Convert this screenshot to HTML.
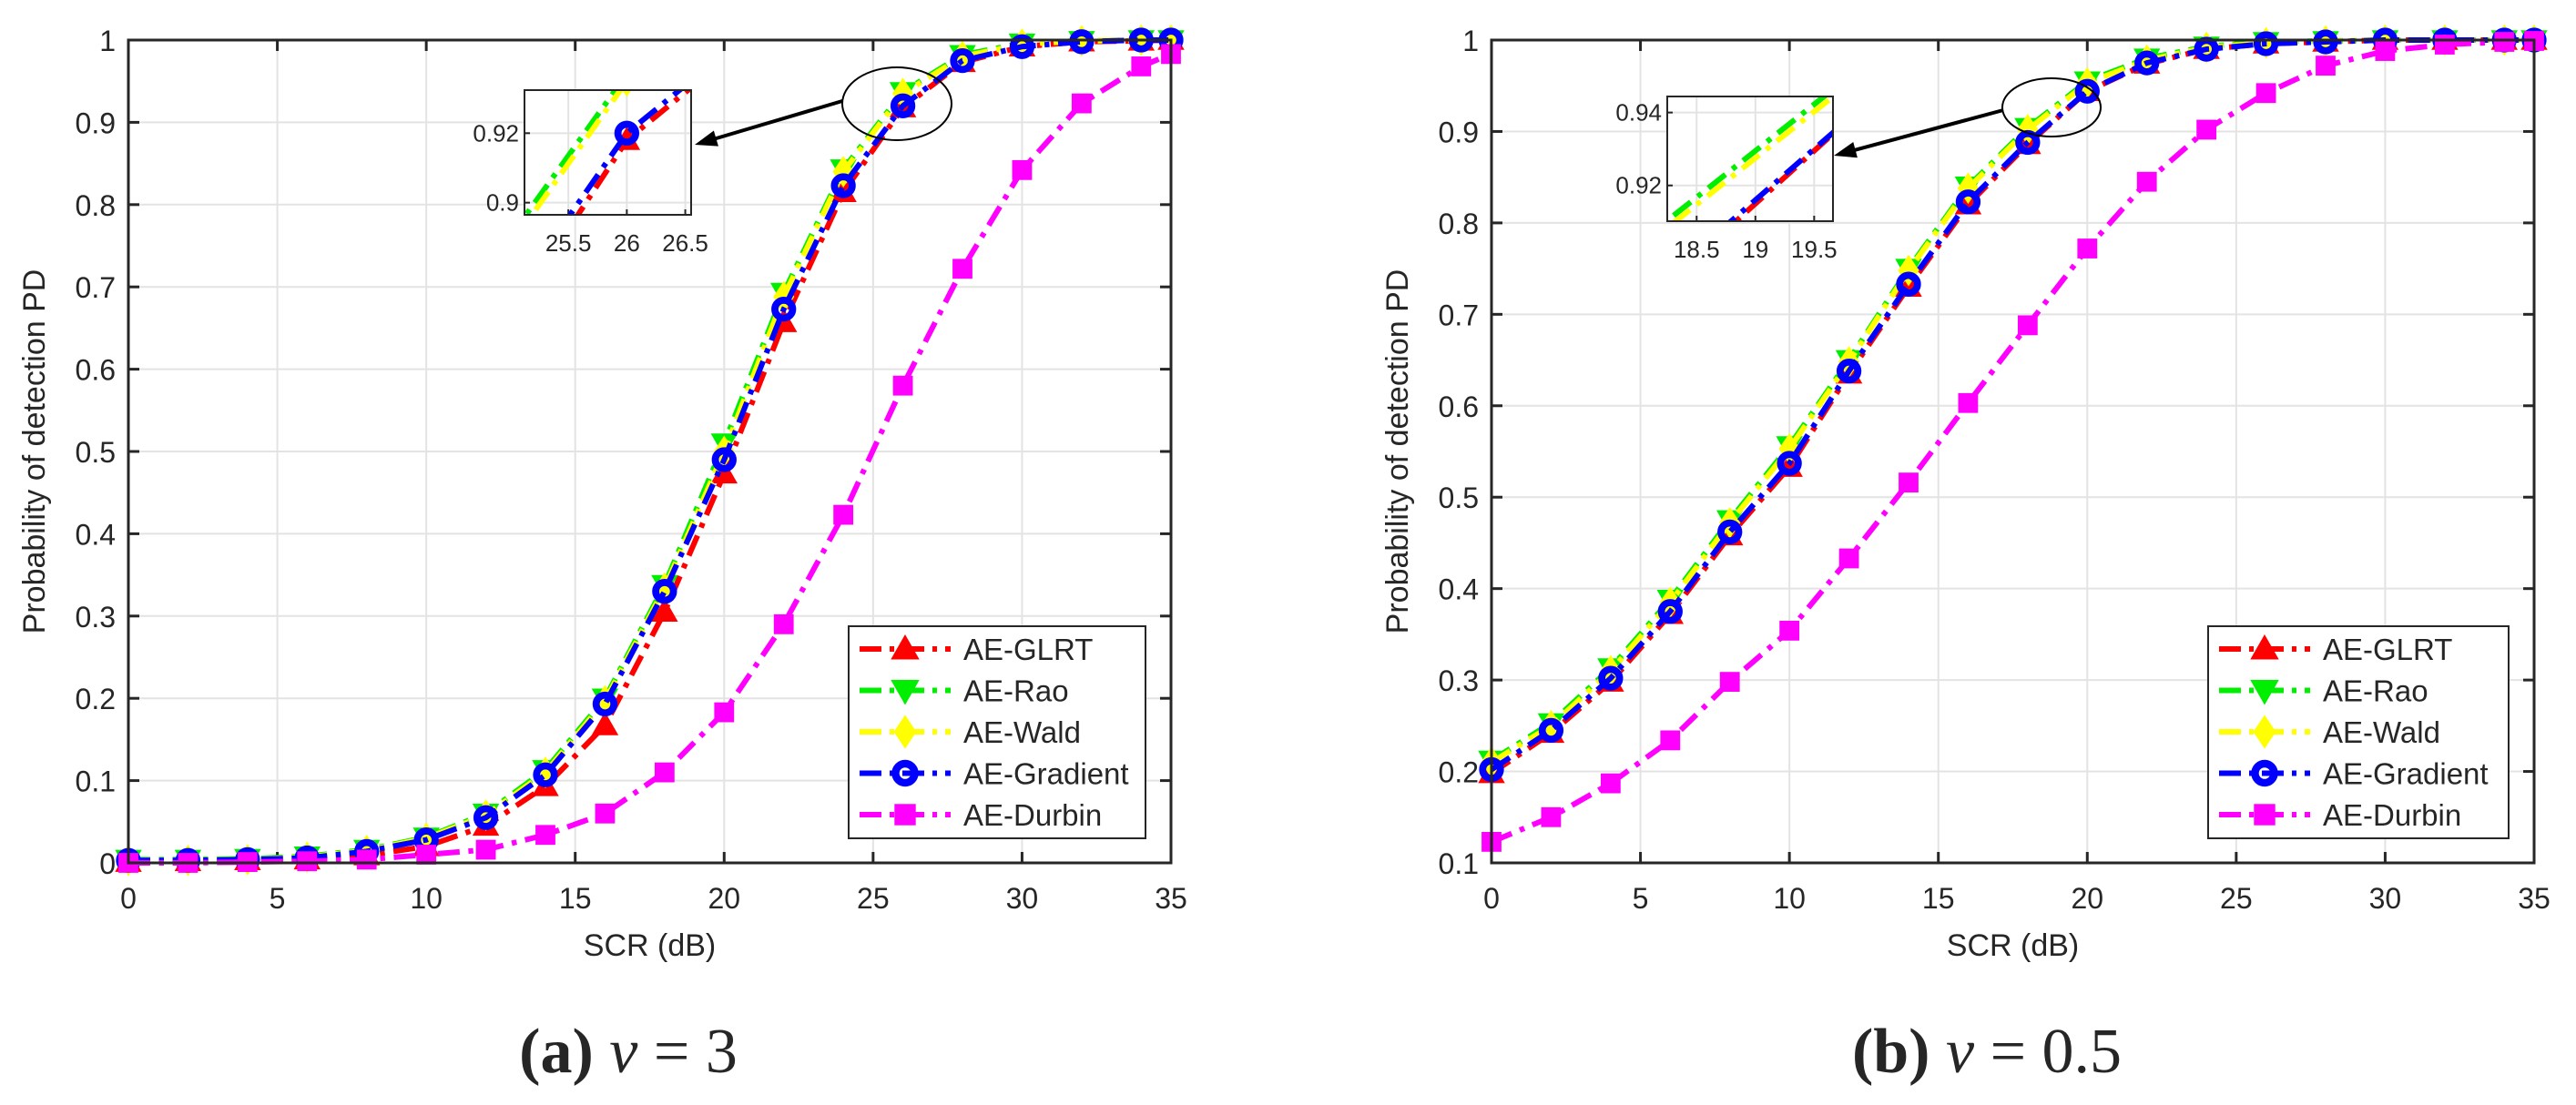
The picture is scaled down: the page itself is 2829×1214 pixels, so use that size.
<!DOCTYPE html>
<html><head><meta charset="utf-8"><style>
html,body{margin:0;padding:0;background:#fff;overflow:hidden;width:2829px;height:1214px}
svg{display:block}
text{font-family:"Liberation Sans",sans-serif;fill:#262626}
</style></head><body>
<svg id="s" width="2829" height="1214" xmlns="http://www.w3.org/2000/svg"></svg>
<script>
const xVals=[0,2,4,6,8,10,12,14,16,18,20,22,24,26,28,30,32,34,35];
const seriesNames=["AE-GLRT","AE-Rao","AE-Wald","AE-Gradient","AE-Durbin"];
const aGLRT=[0.001,0.002,0.003,0.004,0.009,0.02,0.045,0.093,0.167,0.305,0.473,0.657,0.815,0.918,0.973,0.992,0.998,0.999,1];
const aRao=[0.004,0.004,0.005,0.008,0.016,0.031,0.06,0.113,0.2,0.338,0.51,0.693,0.843,0.937,0.982,0.996,0.999,1,1];
const aWald=[0.003,0.003,0.004,0.007,0.015,0.03,0.058,0.11,0.197,0.334,0.5,0.688,0.84,0.935,0.98,0.995,0.999,1,1];
const aGrad=[0.003,0.003,0.004,0.006,0.014,0.028,0.055,0.107,0.193,0.33,0.49,0.673,0.823,0.92,0.975,0.992,0.998,1,1];
const aDurbin=[0,0,0.001,0.002,0.004,0.01,0.016,0.034,0.06,0.11,0.183,0.29,0.423,0.58,0.722,0.842,0.923,0.968,0.983];
const bGLRT=[0.198,0.242,0.298,0.372,0.458,0.533,0.635,0.73,0.82,0.886,0.944,0.974,0.99,0.996,0.998,1,1,1,1];
const bRao=[0.212,0.253,0.313,0.388,0.475,0.556,0.65,0.75,0.84,0.904,0.955,0.98,0.993,0.998,0.999,1,1,1,1];
const bWald=[0.21,0.25,0.31,0.385,0.472,0.553,0.648,0.748,0.838,0.902,0.953,0.978,0.992,0.997,0.999,1,1,1,1];
const bGrad=[0.202,0.245,0.302,0.375,0.462,0.537,0.638,0.733,0.823,0.888,0.944,0.975,0.99,0.996,0.998,1,1,1,1];
const bDurbin=[0.123,0.15,0.187,0.234,0.298,0.354,0.433,0.516,0.603,0.688,0.772,0.845,0.902,0.942,0.972,0.988,0.995,0.998,0.999];
const xTicks=[0,5,10,15,20,25,30,35];
const aYTicks=[0,0.1,0.2,0.3,0.4,0.5,0.6,0.7,0.8,0.9,1];
const bYTicks=[0.1,0.2,0.3,0.4,0.5,0.6,0.7,0.8,0.9,1];
const colors=["#ff0000","#00ee00","#ffff00","#0000ff","#ff00ff"];
const markers=["tri","tridown","diamond","circle","square"];
const NS="http://www.w3.org/2000/svg";
const svg=document.getElementById("s");
function el(tag,attrs,parent){const e=document.createElementNS(NS,tag);for(const k in attrs)e.setAttribute(k,attrs[k]);(parent||svg).appendChild(e);return e;}
function fmt(v){return String(+v.toFixed(3));}
function marker(g,m,x,y,c,s){
  let e;
  if(m==="tri")e=el("polygon",{points:`${x},${y-s} ${x-s},${y+s*0.75} ${x+s},${y+s*0.75}`,fill:c,stroke:c,"stroke-width":2},g);
  else if(m==="tridown")e=el("polygon",{points:`${x},${y+s} ${x-s},${y-s*0.75} ${x+s},${y-s*0.75}`,fill:c,stroke:c,"stroke-width":2},g);
  else if(m==="diamond")e=el("polygon",{points:`${x},${y-s*1.2} ${x+s*0.8},${y} ${x},${y+s*1.2} ${x-s*0.8},${y}`,fill:c,stroke:c,"stroke-width":2},g);
  else if(m==="circle")e=el("circle",{cx:x,cy:y,r:s*0.75,fill:"none",stroke:c,"stroke-width":s*0.6},g);
  else e=el("rect",{x:x-s*0.8,y:y-s*0.8,width:s*1.6,height:s*1.6,fill:c,stroke:c},g);
  return e;
}
function drawPlot(id,L,T,R,B,ymin,yTicks,data,legX,inset,ellipse,arrow,captionX,capLetter,capVal){
  const g=el("g",{});
  
  
  const sx=v=>L+(v-0)/35*(R-L), sy=v=>B-(v-ymin)/(1-ymin)*(B-T);
  for(const t of xTicks){const l=el("line",{x1:sx(t),x2:sx(t),y1:T,y2:B,stroke:"#e3e3e3","stroke-width":2},g);}
  for(const t of yTicks){const l=el("line",{x1:L,x2:R,y1:sy(t),y2:sy(t),stroke:"#e3e3e3","stroke-width":2},g);}
  for(const t of xTicks){
    el("line",{x1:sx(t),x2:sx(t),y1:B,y2:B-12,stroke:"#262626","stroke-width":3},g);
    el("line",{x1:sx(t),x2:sx(t),y1:T,y2:T+12,stroke:"#262626","stroke-width":3},g);
    const tx=el("text",{x:sx(t),y:998,"font-size":32,"text-anchor":"middle"},g);tx.textContent=t;
    
  }
  for(const t of yTicks){
    el("line",{x1:L,x2:L+12,y1:sy(t),y2:sy(t),stroke:"#262626","stroke-width":3},g);
    el("line",{x1:R,x2:R-12,y1:sy(t),y2:sy(t),stroke:"#262626","stroke-width":3},g);
    const tx=el("text",{x:L-14,y:sy(t)+12,"font-size":32,"text-anchor":"end"},g);tx.textContent=fmt(t);
    
  }
  const xt=el("text",{x:(L+R)/2,y:1050,"font-size":34,"text-anchor":"middle"},g);xt.textContent="SCR (dB)";
  
  const yx=L-92, yy=(T+B)/2;
  const yt=el("text",{x:yx,y:yy,"font-size":34,"text-anchor":"middle",transform:`rotate(-90 ${yx} ${yy})`},g);yt.textContent="Probability of detection PD";
  
  function series(gx,data,fx,fy,ms,lw){
    data.forEach((d,i)=>{
      const sg=el("g",{},gx);
      
      
      const pts=xVals.map((x,j)=>fx(x)+","+fy(d[j])).join(" ");
      el("polyline",{points:pts,fill:"none",stroke:colors[i],"stroke-width":lw,"stroke-dasharray":`${lw*4},${lw*1.6},${lw*0.9},${lw*1.6}`},sg);
      xVals.forEach((x,j)=>{const m=marker(sg,markers[i],fx(x),fy(d[j]),colors[i],ms);});
    });
  }
  series(g,data,sx,sy,13,6);
  el("rect",{x:L,y:T,width:R-L,height:B-T,fill:"none",stroke:"#262626","stroke-width":3},g);
  const lg=el("g",{},g);
  el("rect",{x:legX,y:688,width:R-28-legX,height:233,fill:"#fff",stroke:"#262626","stroke-width":2},lg);
  seriesNames.forEach((n,i)=>{
    const yy=713+i*45.5;
    const eg=el("g",{},lg);
    el("line",{x1:legX+12,x2:legX+112,y1:yy,y2:yy,stroke:colors[i],"stroke-width":6,"stroke-dasharray":"24,9,5,9"},eg);
    marker(eg,markers[i],legX+62,yy,colors[i],14);
    const t=el("text",{x:legX+126,y:yy+12,"font-size":33},eg);t.textContent=n;
  });
  const ig=el("g",{},g);
  const [iL,iT,iR,iB,x0,x1,y0,y1,ixt,iyt]=inset;
  const ix=v=>iL+(v-x0)/(x1-x0)*(iR-iL), iy=v=>iB-(v-y0)/(y1-y0)*(iB-iT);
  el("rect",{x:iL,y:iT,width:iR-iL,height:iB-iT,fill:"#fff"},ig);
  const cp=el("clipPath",{id:"c"+id},ig);el("rect",{x:iL,y:iT,width:iR-iL,height:iB-iT},cp);
  for(const t of ixt){el("line",{x1:ix(t),x2:ix(t),y1:iT,y2:iB,stroke:"#e3e3e3","stroke-width":2},ig);
    el("line",{x1:ix(t),x2:ix(t),y1:iB,y2:iB-6,stroke:"#262626","stroke-width":2},ig);
    const t2=el("text",{x:ix(t),y:iB+40,"font-size":26,"text-anchor":"middle"},ig);t2.textContent=t;}
  for(const t of iyt){el("line",{x1:iL,x2:iR,y1:iy(t),y2:iy(t),stroke:"#e3e3e3","stroke-width":2},ig);
    el("line",{x1:iL,x2:iL+6,y1:iy(t),y2:iy(t),stroke:"#262626","stroke-width":2},ig);
    const t2=el("text",{x:iL-6,y:iy(t)+9,"font-size":26,"text-anchor":"end"},ig);t2.textContent=t;}
  const cg=el("g",{"clip-path":`url(#c${id})`},ig);
  series(cg,data,ix,iy,13,6);
  el("rect",{x:iL,y:iT,width:iR-iL,height:iB-iT,fill:"none",stroke:"#262626","stroke-width":2},ig);
  const e=el("ellipse",{cx:ellipse[0],cy:ellipse[1],rx:ellipse[2],ry:ellipse[3],fill:"none",stroke:"#000","stroke-width":2},g);
  
  const [ax1,ay1,ax2,ay2]=arrow;const ang=Math.atan2(ay2-ay1,ax2-ax1);
  const a=el("g",{},g);
  el("line",{x1:ax1,y1:ay1,x2:ax2-22*Math.cos(ang),y2:ay2-22*Math.sin(ang),stroke:"#000","stroke-width":4},a);
  const p=(o)=>[ax2-26*Math.cos(ang+o),ay2-26*Math.sin(ang+o)];
  el("polygon",{points:`${ax2},${ay2} ${p(0.35)} ${p(-0.35)}`,fill:"#000"},a);
  const cap=el("text",{x:captionX,y:1178,"font-size":70,"text-anchor":"middle"},g);
  
  cap.innerHTML=`<tspan font-weight="bold" style="font-family:'Liberation Serif',serif">(${capLetter})</tspan><tspan style="font-family:'Liberation Serif',serif"> </tspan><tspan font-style="italic" style="font-family:'Liberation Serif',serif">v</tspan><tspan style="font-family:'Liberation Serif',serif"> = ${capVal}</tspan>`;
}
drawPlot("plot-a",141,44,1286,948,0,aYTicks,[aGLRT,aRao,aWald,aGrad,aDurbin],932,
 [576,99,759,236,25.125,26.55,0.8965,0.9324,[25.5,26,26.5],[0.9,0.92]],[985,114,60,40],[925,111,763,159],690,"a","3");
drawPlot("plot-b",1638,44,2783,948,0.1,bYTicks,[bGLRT,bRao,bWald,bGrad,bDurbin],2425,
 [1831,106,2013,243,18.25,19.66,0.9102,0.9444,[18.5,19,19.5],[0.92,0.94]],[2253,118,54,32],[2200,121,2014,171],2182,"b","0.5");
</script>
</body></html>
